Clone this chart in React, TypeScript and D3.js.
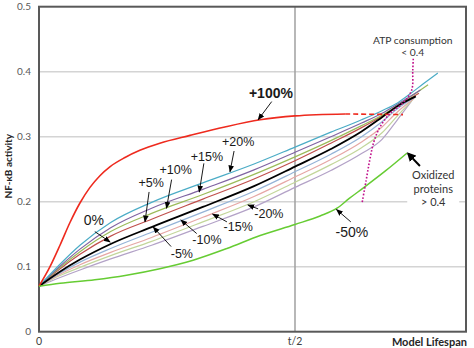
import React from "react";
import * as d3 from "d3";

// x = fraction of model lifespan (t/2 = 0.5), y = NF-κB activity
const yTicks = [0, 0.1, 0.2, 0.3, 0.4, 0.5];
const yTickLabels = ["0", "0.1", "0.2", "0.3", "0.4", "0.5"];
const xTickValues = [0, 0.5];
const xTickLabels = ["0", "t/2"];

type P = [number, number];

const red100: P[] = [[0, 0.07], [0.0215, 0.1], [0.041, 0.133], [0.0605, 0.168], [0.08, 0.198], [0.0996, 0.222], [0.119, 0.24], [0.139, 0.254], [0.168, 0.268], [0.197, 0.279], [0.236, 0.29], [0.295, 0.302], [0.363, 0.315], [0.432, 0.326], [0.5, 0.332], [0.598, 0.335]];
const red100Dashed: P[] = [[0.598, 0.335], [0.711, 0.334]];
const green50: P[] = [[0, 0.07], [0.041, 0.0745], [0.109, 0.08], [0.171, 0.087], [0.236, 0.097], [0.301, 0.11], [0.367, 0.128], [0.432, 0.148], [0.5, 0.165], [0.549, 0.178], [0.582, 0.19], [0.606, 0.205], [0.633, 0.221], [0.676, 0.247], [0.719, 0.275]];

const plus20: P[] = [[0, 0.07], [0.04, 0.103], [0.08, 0.133], [0.14, 0.168], [0.22, 0.199], [0.32, 0.229], [0.42, 0.258], [0.5, 0.284], [0.57, 0.307], [0.63, 0.326], [0.67, 0.34], [0.7, 0.352], [0.725, 0.366], [0.75, 0.381], [0.779, 0.398]];
const plus15: P[] = [[0, 0.07], [0.04, 0.1], [0.08, 0.127], [0.14, 0.16], [0.22, 0.19], [0.32, 0.219], [0.42, 0.249], [0.5, 0.276], [0.57, 0.3], [0.63, 0.321], [0.67, 0.336], [0.7, 0.35], [0.745, 0.372]];
const plus10: P[] = [[0, 0.07], [0.04, 0.098], [0.08, 0.123], [0.14, 0.154], [0.22, 0.182], [0.32, 0.211], [0.42, 0.242], [0.5, 0.269], [0.57, 0.294], [0.63, 0.317], [0.67, 0.333], [0.7, 0.348], [0.76, 0.38]];
const plus5: P[] = [[0, 0.07], [0.04, 0.096], [0.08, 0.119], [0.14, 0.147], [0.22, 0.173], [0.32, 0.204], [0.42, 0.235], [0.5, 0.263], [0.57, 0.29], [0.63, 0.314], [0.67, 0.332], [0.7, 0.347], [0.742, 0.367]];
const zero: P[] = [[0, 0.07], [0.04, 0.092], [0.08, 0.111], [0.14, 0.135], [0.22, 0.161], [0.32, 0.192], [0.42, 0.224], [0.5, 0.254], [0.57, 0.281], [0.63, 0.308], [0.67, 0.33], [0.7, 0.347], [0.736, 0.362]];
const minus5: P[] = [[0, 0.07], [0.04, 0.09], [0.08, 0.107], [0.14, 0.128], [0.22, 0.153], [0.32, 0.184], [0.42, 0.216], [0.5, 0.246], [0.57, 0.273], [0.63, 0.3], [0.67, 0.323], [0.7, 0.343], [0.735, 0.361]];
const minus10: P[] = [[0, 0.07], [0.04, 0.088], [0.08, 0.103], [0.14, 0.122], [0.22, 0.145], [0.32, 0.176], [0.42, 0.208], [0.5, 0.238], [0.57, 0.265], [0.63, 0.292], [0.67, 0.315], [0.7, 0.338], [0.733, 0.359]];
const minus15: P[] = [[0, 0.07], [0.04, 0.086], [0.08, 0.099], [0.14, 0.117], [0.22, 0.139], [0.32, 0.169], [0.42, 0.2], [0.5, 0.23], [0.57, 0.257], [0.63, 0.283], [0.67, 0.306], [0.7, 0.332], [0.73, 0.357]];
const minus20: P[] = [[0, 0.07], [0.04, 0.083], [0.08, 0.095], [0.14, 0.112], [0.22, 0.133], [0.32, 0.162], [0.42, 0.192], [0.5, 0.222], [0.57, 0.248], [0.63, 0.274], [0.67, 0.296], [0.7, 0.326], [0.728, 0.355]];

const atpThreshold: P[] = [[0.731, 0.42], [0.73, 0.402], [0.728, 0.372], [0.711, 0.352], [0.686, 0.336], [0.666, 0.315], [0.654, 0.292], [0.646, 0.264], [0.639, 0.233], [0.631, 0.198]];

const seriesNames = ["-20%", "-15%", "-10%", "-5%", "+5%", "+10%", "+15%", "+20%", "0%", "+100%", "-50%"];
const seriesData = [minus20, minus15, minus10, minus5, plus5, plus10, plus15, plus20, zero, red100, green50];
const seriesColors = ["#B3A2C7", "#C3D69B", "#E6A7A5", "#95B3D7", "#C0504D", "#9BBB59", "#8064A2", "#4BACC6", "#000000", "#EE2A1E", "#66CC33"];
const seriesWidths = [1.2, 1.2, 1.2, 1.2, 1.2, 1.2, 1.2, 1.2, 1.8, 1.6, 1.5];

// annotation: label, text position, arrow start, arrow end
const annLabels = ["+100%", "0%", "+5%", "+10%", "+15%", "+20%", "-5%", "-10%", "-15%", "-20%", "-50%"];
const annText: P[] = [[0.453, 0.367], [0.107, 0.172], [0.219, 0.229], [0.267, 0.25], [0.328, 0.27], [0.389, 0.292], [0.279, 0.12], [0.328, 0.141], [0.389, 0.161], [0.449, 0.181], [0.611, 0.153]];
const annFrom: P[] = [[0.4545, 0.354], [0.109, 0.154], [0.215, 0.215], [0.259, 0.234], [0.322, 0.259], [0.381, 0.278], [0.258, 0.131], [0.308, 0.151], [0.367, 0.169], [0.428, 0.189], [0.609, 0.169]];
const annTo: P[] = [[0.428, 0.326], [0.139, 0.138], [0.207, 0.169], [0.249, 0.19], [0.313, 0.215], [0.373, 0.246], [0.223, 0.161], [0.277, 0.172], [0.339, 0.181], [0.408, 0.195], [0.581, 0.188]];
const annBold = [true, false, false, false, false, false, false, false, false, false, false];
const annSize = [14, 14, 12.5, 12.5, 12.5, 12.5, 12.5, 12.5, 12.5, 12.5, 14];

const oxLines = ["Oxidized", "proteins", "> 0.4"];
const oxText: P[] = [[0.77, 0.241], [0.77, 0.219], [0.77, 0.199]];
const oxArrow: P[] = [[0.744, 0.255], [0.721, 0.274]];
const atpLines = ["ATP consumption", "< 0.4"];
const atpText: P[] = [[0.73, 0.448], [0.73, 0.43]];

const W = 474;
const H = 348;
const L = 39, R = 466, T = 6.7, B = 331.7;

export default function App() {
  const x = d3.scaleLinear().domain([0, 0.834]).range([L, R]);
  const y = d3.scaleLinear().domain([0, 0.5]).range([B, T]);
  const line = d3.line<P>().x((d) => x(d[0])).y((d) => y(d[1])).curve(d3.curveMonotoneX);
  const lineCR = d3.line<P>().x((d) => x(d[0])).y((d) => y(d[1])).curve(d3.curveCatmullRom);
  const sans = "'Liberation Sans', Arial, sans-serif";
  const cal = "Lato, 'Open Sans', sans-serif";
  return (
    <svg width={W} height={H} style={{ position: "absolute", left: 0, top: 0, background: "#fff" }}>
      <defs>
        <marker id="ah" viewBox="0 0 10 10" refX="9" refY="5" markerWidth="7" markerHeight="7" markerUnits="userSpaceOnUse" orient="auto">
          <path d="M0,1 L10,5 L0,9 z" fill="#000" />
        </marker>
        <marker id="ahb" viewBox="0 0 10 10" refX="8" refY="5" markerWidth="9" markerHeight="9" markerUnits="userSpaceOnUse" orient="auto">
          <path d="M0,0 L10,5 L0,10 z" fill="#000" />
        </marker>
      </defs>
      <rect x={0} y={0} width={W} height={H} fill="#fff" />
      {yTicks.slice(1, 5).map((t) => (
        <line key={t} x1={L} x2={R} y1={y(t)} y2={y(t)} stroke="#D4D4D4" strokeWidth={1.5} />
      ))}
      <line x1={x(0.5)} x2={x(0.5)} y1={T} y2={B} stroke="#A0A0A0" strokeWidth={1.5} />
      <rect x={L} y={T} width={R - L} height={B - T} fill="none" stroke="#595959" strokeWidth={2} />
      {yTicks.map((t, i) => (
        <text key={t} x={L - 8} y={y(t)} dy="0.35em" textAnchor="end" fontFamily={cal} fontSize={10} fill="#595959">
          {yTickLabels[i]}
        </text>
      ))}
      {xTickValues.map((t, i) => (
        <text key={t} x={x(t)} y={B + 10} dy="0.35em" textAnchor="middle" fontFamily={cal} fontSize={10.5} fill="#404040">
          {xTickLabels[i]}
        </text>
      ))}
      <text x={R + 1} y={B + 10} dy="0.35em" textAnchor="end" fontFamily={cal} fontSize={11} fontWeight="bold" fill="#262626">
        Model Lifespan
      </text>
      <text transform={`translate(${12},${(T + B) / 2 - 3}) rotate(-90)`} textAnchor="middle" fontFamily={cal} fontSize={10} fontWeight="bold" fill="#262626">
        NF-κB activity
      </text>
      {seriesData.map((d, i) => (
        <path key={seriesNames[i]} d={line(d) || ""} fill="none" stroke={seriesColors[i]} strokeWidth={seriesWidths[i]} />
      ))}
      <path d={line(red100Dashed) || ""} fill="none" stroke="#EE2A1E" strokeWidth={1.6} strokeDasharray="5,3" />
      <path d={lineCR(atpThreshold) || ""} fill="none" stroke="#C0108A" strokeWidth={1.6} strokeDasharray="1.6,1.8" />
      {annLabels.map((lab, i) => (
        <g key={lab}>
          <line x1={x(annFrom[i][0])} y1={y(annFrom[i][1])} x2={x(annTo[i][0])} y2={y(annTo[i][1])} stroke="#000" strokeWidth={0.9} markerEnd="url(#ah)" />
          <text x={x(annText[i][0])} y={y(annText[i][1])} dy="0.35em" textAnchor="middle" fontFamily={sans} fontSize={annSize[i]} fontWeight={annBold[i] ? "bold" : "normal"} fill="#1a1a1a">
            {lab}
          </text>
        </g>
      ))}
      <rect x={x(0.77) - 26} y={y(0.199) - 7} width={52} height={14} fill="#fff" />
      {oxLines.map((s, i) => (
        <text key={s} x={x(oxText[i][0])} y={y(oxText[i][1])} dy="0.35em" textAnchor="middle" fontFamily={cal} fontSize={11} fill="#333">
          {s}
        </text>
      ))}
      <line x1={x(oxArrow[0][0])} y1={y(oxArrow[0][1])} x2={x(oxArrow[1][0])} y2={y(oxArrow[1][1])} stroke="#000" strokeWidth={2} markerEnd="url(#ahb)" />
      {atpLines.map((s, i) => (
        <text key={s} x={x(atpText[i][0])} y={y(atpText[i][1])} dy="0.35em" textAnchor="middle" fontFamily={cal} fontSize={10.3} fill="#333">
          {s}
        </text>
      ))}
    </svg>
  );
}
